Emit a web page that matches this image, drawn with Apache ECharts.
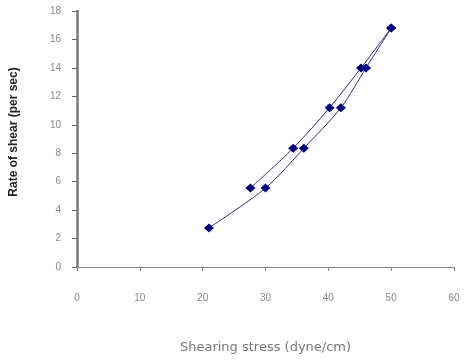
<!DOCTYPE html>
<html><head><meta charset="utf-8">
<script src="https://cdn.jsdelivr.net/npm/echarts@6/dist/echarts.min.js"></script>
<style>html,body{margin:0;padding:0;background:#fff}#c{width:474px;height:363px}</style>
</head><body><div id="c"></div>
<script>
// Shearing stress (dyne/cm) vs rate of shear (per sec)
const lowerStress = [21, 30, 36.1, 42, 46, 50];
const lowerRate   = [2.75, 5.55, 8.35, 11.2, 14, 16.8];
const upperStress = [27.6, 34.4, 40.2, 45.2, 50];
const upperRate   = [5.55, 8.35, 11.2, 14, 16.8];
const xTicks = [0, 10, 20, 30, 40, 50, 60];
const yTicks = [0, 2, 4, 6, 8, 10, 12, 14, 16, 18];

const pair = (xs, ys) => xs.map((x, i) => [x, ys[i]]);
const chart = echarts.init(document.getElementById('c'), null, {renderer: 'canvas'});
const navy = '#000080';
const seriesBase = {
  type: 'line', smooth: 0.3, symbol: 'diamond', symbolSize: [10, 9],
  lineStyle: {color: '#2a2a8c', width: 1},
  itemStyle: {color: navy}, animation: false
};
chart.setOption({
  backgroundColor: '#fff',
  grid: {left: 76, right: 20, top: 11, bottom: 96},
  xAxis: {
    type: 'value', min: xTicks[0], max: xTicks[xTicks.length - 1], interval: 10,
    name: 'Shearing stress (dyne/cm)', nameLocation: 'middle', nameGap: 81,
    nameTextStyle: {color: '#777', fontSize: 13, fontFamily: 'DejaVu Sans', verticalAlign: 'middle'},
    axisLine: {lineStyle: {color: '#888', width: 1}},
    axisTick: {length: 4, lineStyle: {color: '#888'}},
    axisLabel: {color: '#888', fontSize: 10, fontFamily: 'Liberation Sans', margin: 26},
    splitLine: {show: false}
  },
  yAxis: {
    type: 'value', min: yTicks[0], max: yTicks[yTicks.length - 1], interval: 2,
    name: 'Rate of shear (per sec)', nameLocation: 'middle', nameGap: 57,
    nameTextStyle: {color: '#222', fontSize: 12, fontWeight: 'bold', fontFamily: 'Liberation Sans', padding: [0, 0, 0, 14]},
    axisLine: {lineStyle: {color: '#777', width: 2.5}},
    axisTick: {length: 5, lineStyle: {color: '#666'}},
    axisLabel: {color: '#888', fontSize: 10, fontFamily: 'Liberation Sans', margin: 16},
    splitLine: {show: false}
  },
  series: [
    Object.assign({}, seriesBase, {name: 'lower', data: pair(lowerStress, lowerRate)}),
    Object.assign({}, seriesBase, {name: 'upper', data: pair(upperStress, upperRate)})
  ]
});
</script></body></html>
